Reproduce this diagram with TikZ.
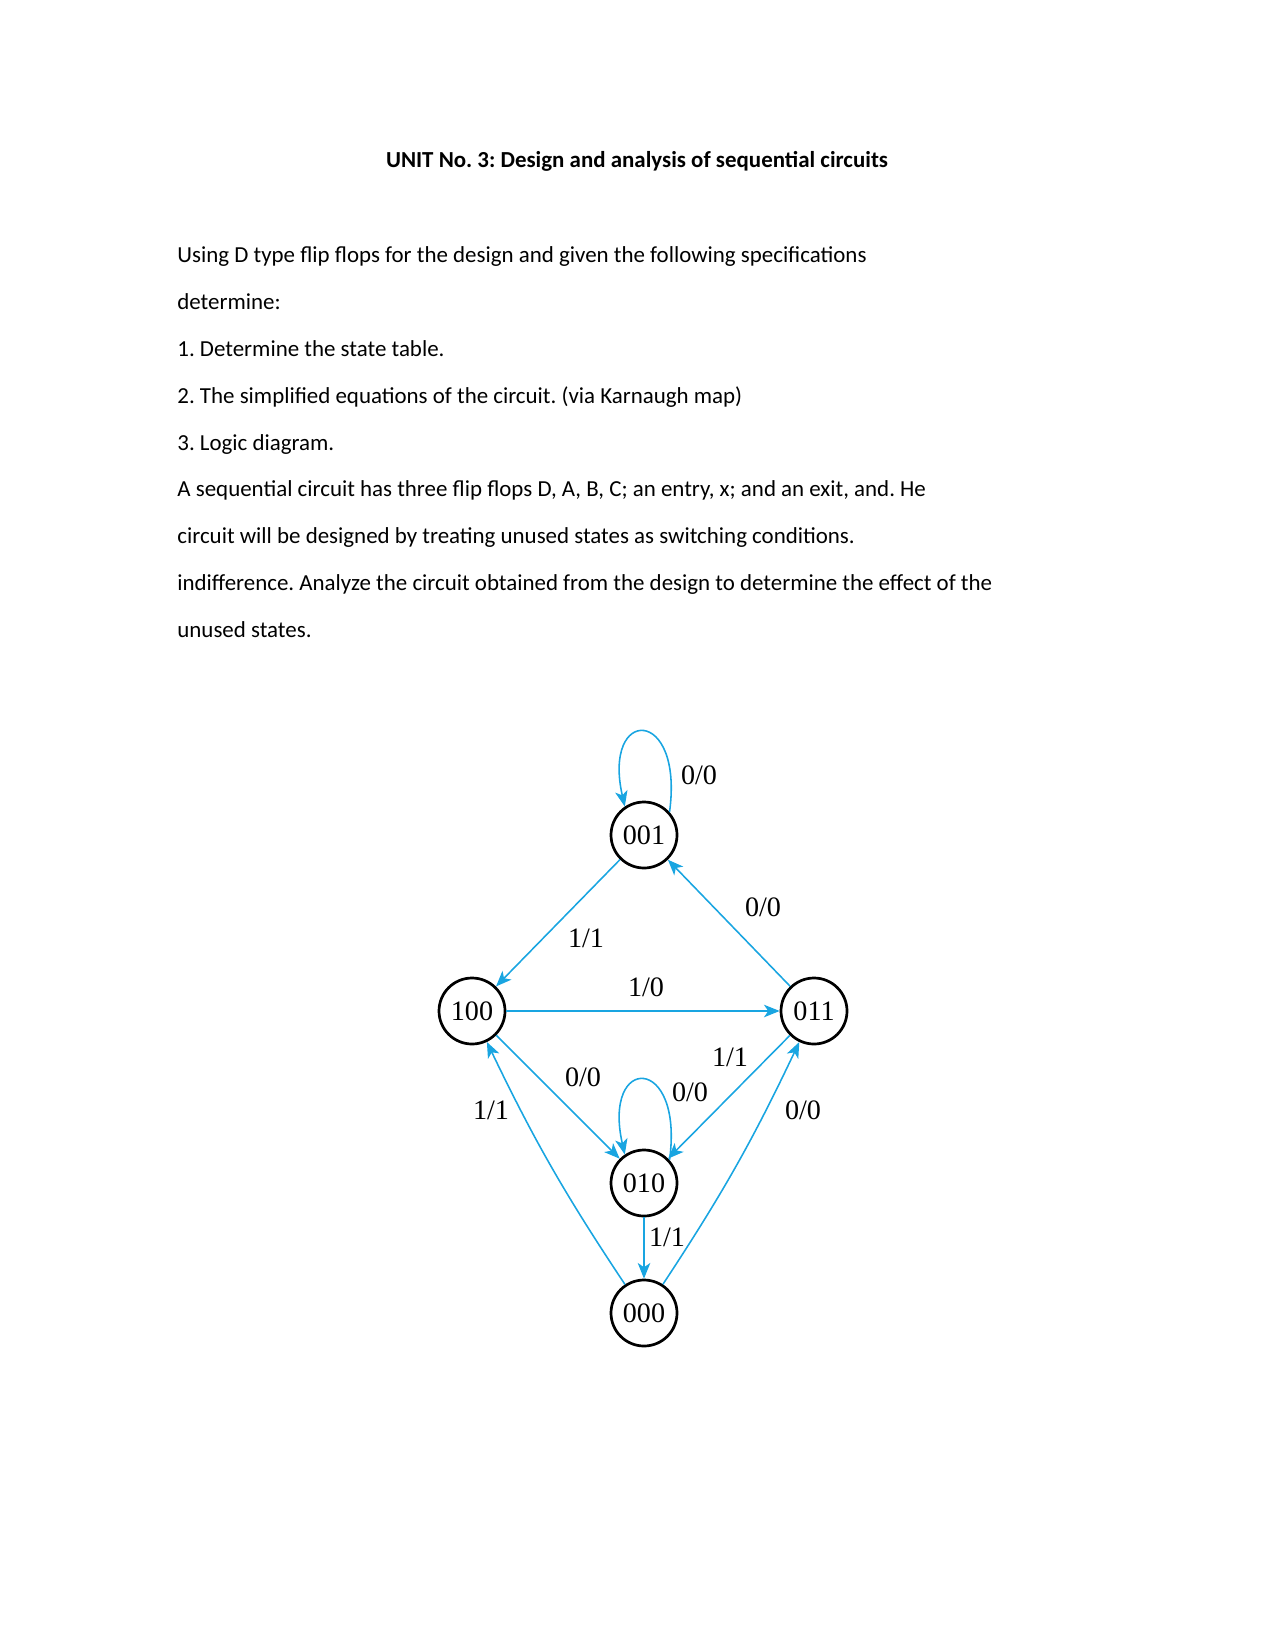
\documentclass[tikz,border=0pt]{standalone}
\usepackage{fontspec}
\setmainfont{Carlito}
\newfontfamily\diagfont{Liberation Serif}
\usetikzlibrary{arrows.meta}
\definecolor{edgeblue}{RGB}{25,165,225}
\frenchspacing
\begin{document}
\begin{tikzpicture}[x=0.48pt,y=-0.48pt,
  state/.style={circle,draw=black,line width=1.3pt,minimum size=66*0.48pt,inner sep=0pt,
    font=\diagfont\fontsize{13.5}{14}\selectfont},
  lbl/.style={font=\diagfont\fontsize{13.5}{14}\selectfont,inner sep=0pt},
  txt/.style={anchor=base west,inner sep=0pt,font=\fontsize{11}{13}\selectfont},
  edge/.style={draw=edgeblue,line width=0.75pt,-{Stealth[length=7.5pt,width=6pt,inset=2pt]}}]
\useasboundingbox (0,0) rectangle (1275,1650);
% text
\node[anchor=base,inner sep=0pt,font=\fontsize{11}{13}\selectfont\bfseries] (title) at (637,168) {UNIT No. 3: Design and analysis of sequential circuits};
\node[txt] (t1) at (177,263) {Using D type flip flops for the design and given the following specifications};
\node[txt] (t2) at (177,309.75) {determine:};
\node[txt] (t3) at (177,356.5) {1. Determine the state table.};
\node[txt] (t4) at (177,403.25) {2. The simplified equations of the circuit. (via Karnaugh map)};
\node[txt] (t5) at (177,450) {3. Logic diagram.};
\node[txt] (t6) at (177,496.75) {A sequential circuit has three flip flops D, A, B, C; an entry, x; and an exit, and. He};
\node[txt] (t7) at (177,543.5) {circuit will be designed by treating unused states as switching conditions.};
\node[txt] (t8) at (177,590.25) {indifference. Analyze the circuit obtained from the design to determine the effect of the};
\node[txt] (t9) at (177,637) {unused states.};
% states
\node[state] (s001) at (644,835) {001};
\node[state] (s100) at (472,1011) {100};
\node[state] (s011) at (814,1011) {011};
\node[state] (s010) at (644,1183) {010};
\node[state] (s000) at (644,1313) {000};
% edges
\draw[edge] (s001.42) .. controls (684,706) and (602,706) .. (s001.124);
\draw[edge] (s001) -- (s100);
\draw[edge] (s011) -- (s001);
\draw[edge] (s100) -- (s011);
\draw[edge] (s100) -- (s010);
\draw[edge] (s011) -- (s010);
\draw[edge] (s010.42) .. controls (684,1054) and (602,1054) .. (s010.124);
\draw[edge] (s010) -- (s000);
\draw[edge] (s000) to[bend left=4] (s100);
\draw[edge] (s000) to[bend right=4] (s011);
% labels
\node[lbl] (l1) at (699,775) {0/0};
\node[lbl] (l2) at (763,907) {0/0};
\node[lbl] (l3) at (586,938) {1/1};
\node[lbl] (l4) at (646,987) {1/0};
\node[lbl] (l5) at (583,1077) {0/0};
\node[lbl] (l6) at (491,1110) {1/1};
\node[lbl] (l7) at (690,1092) {0/0};
\node[lbl] (l8) at (730,1057) {1/1};
\node[lbl] (l9) at (803,1110) {0/0};
\node[lbl] (l10) at (667,1237) {1/1};
\end{tikzpicture}
\end{document}
